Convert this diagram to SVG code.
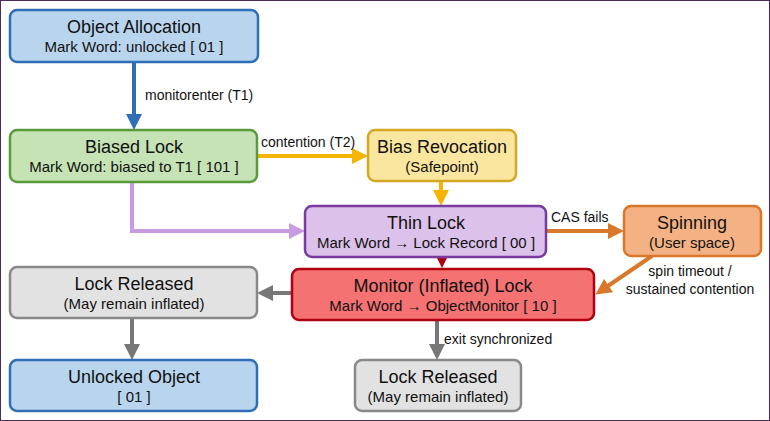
<svg xmlns="http://www.w3.org/2000/svg" width="770" height="421" viewBox="0 0 770 421">
<style>
text{font-family:"Liberation Sans",Arial,sans-serif;fill:#111;text-anchor:middle}
.t{font-size:18px}.s{font-size:15px}.l{font-size:14px;text-anchor:start}
.n{stroke-width:2.5}
.c{fill:none;stroke-width:4}
</style>
<defs>
<marker id="ab" markerWidth="4" markerHeight="4" refX="2" refY="2" orient="auto"><path d="M0,0L4,2L0,4Z" fill="#2f6db5"/></marker>
<marker id="ay" markerWidth="4" markerHeight="4" refX="2" refY="2" orient="auto"><path d="M0,0L4,2L0,4Z" fill="#f4b400"/></marker>
<marker id="ap" markerWidth="4" markerHeight="4" refX="2" refY="2" orient="auto"><path d="M0,0L4,2L0,4Z" fill="#c99be0"/></marker>
<marker id="ao" markerWidth="4" markerHeight="4" refX="2" refY="2" orient="auto"><path d="M0,0L4,2L0,4Z" fill="#d9782a"/></marker>
<marker id="ar" markerWidth="4" markerHeight="4" refX="2" refY="2" orient="auto"><path d="M0,0L4,2L0,4Z" fill="#b00010"/></marker>
<marker id="ag" markerWidth="4" markerHeight="4" refX="2" refY="2" orient="auto"><path d="M0,0L4,2L0,4Z" fill="#777"/></marker>
</defs>
<rect x="0.5" y="0.5" width="769" height="420" fill="#fff" stroke="#4a2a5a"/>
<g id="connectors">
<path class="c" d="M134,62V122" stroke="#2f6db5" marker-end="url(#ab)"/>
<text class="l" x="145" y="100">monitorenter (T1)</text>
<path class="c" d="M257,156H360" stroke="#f4b400" marker-end="url(#ay)"/>
<text class="l" x="261" y="147">contention (T2)</text>
<path class="c" d="M441,181V198" stroke="#f4b400" marker-end="url(#ay)"/>
<path class="c" d="M132,182V231H297" stroke="#c99be0" marker-end="url(#ap)"/>
<path class="c" d="M546,231H616" stroke="#d9782a" marker-end="url(#ao)"/>
<text class="l" x="551" y="222">CAS fails</text>
<path class="c" d="M652,256L602,290" stroke="#d9782a" marker-end="url(#ao)"/>
<text class="s" x="690" y="276" style="font-size:14px">spin timeout /</text>
<text class="s" x="690" y="294" style="font-size:14px">sustained contention</text>
<path d="M437,258H447L442,268Z" fill="#b00010"/>
<path class="c" d="M292,293H265" stroke="#777" marker-end="url(#ag)"/>
<path class="c" d="M132,318V352" stroke="#777" marker-end="url(#ag)"/>
<path class="c" d="M437,320V352" stroke="#777" marker-end="url(#ag)"/>
<text class="l" x="444" y="344">exit synchronized</text>
</g>
<g id="n1"><rect class="n" x="10" y="10" width="248" height="52" rx="7" fill="#b9d5ee" stroke="#2f6db5"/><text class="t" x="134" y="33">Object Allocation</text><text class="s" x="134" y="52">Mark Word: unlocked [ 01 ]</text></g>
<g id="n2"><rect class="n" x="10" y="130" width="247" height="52" rx="7" fill="#c5e3b4" stroke="#5a9a3c"/><text class="t" x="134" y="153">Biased Lock</text><text class="s" x="134" y="172">Mark Word: biased to T1 [ 101 ]</text></g>
<g id="n3"><rect class="n" x="368" y="130" width="148" height="51" rx="7" fill="#fbe6a0" stroke="#d4a820"/><text class="t" x="442" y="153">Bias Revocation</text><text class="s" x="442" y="172">(Safepoint)</text></g>
<g id="n4"><rect class="n" x="305" y="206" width="241" height="51" rx="7" fill="#dcc1ea" stroke="#7a3aa0"/><text class="t" x="426" y="229">Thin Lock</text><text class="s" x="426" y="248">Mark Word → Lock Record [ 00 ]</text></g>
<g id="n5"><rect class="n" x="624" y="206" width="137" height="50" rx="7" fill="#f3b184" stroke="#d9782a"/><text class="t" x="692" y="229">Spinning</text><text class="s" x="692" y="248">(User space)</text></g>
<g id="n6"><rect class="n" x="292" y="269" width="302" height="51" rx="7" fill="#f47272" stroke="#b00010"/><text class="t" x="443" y="292">Monitor (Inflated) Lock</text><text class="s" x="443" y="311">Mark Word → ObjectMonitor [ 10 ]</text></g>
<g id="n7"><rect class="n" x="10" y="267" width="247" height="51" rx="7" fill="#e2e2e2" stroke="#888"/><text class="t" x="134" y="290">Lock Released</text><text class="s" x="134" y="309">(May remain inflated)</text></g>
<g id="n8"><rect class="n" x="10" y="360" width="247" height="51" rx="7" fill="#b9d5ee" stroke="#2f6db5"/><text class="t" x="134" y="383">Unlocked Object</text><text class="s" x="134" y="402">[ 01 ]</text></g>
<g id="n9"><rect class="n" x="355" y="360" width="166" height="51" rx="7" fill="#e2e2e2" stroke="#888"/><text class="t" x="438" y="383">Lock Released</text><text class="s" x="438" y="402">(May remain inflated)</text></g>
</svg>
